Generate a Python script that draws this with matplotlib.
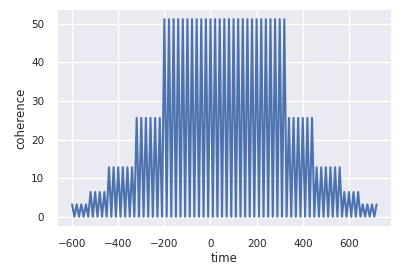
import numpy as np
import matplotlib
matplotlib.use("Agg")
import matplotlib.pyplot as plt
import seaborn as sns

sns.set_theme(style="darkgrid")

# peak level of each tooth, from time -600 to 720 in steps of 20
peak_levels = (
    [3.2] * 4 + [6.4] * 4 + [12.8] * 6 + [25.6] * 6 +
    [51.2] * 27 +
    [25.6] * 6 + [12.8] * 6 + [6.4] * 4 + [3.2] * 4
)
peak_times = list(range(-600, 721, 20))

# zig-zag: peak at each tooth time, zero halfway between teeth
time = []
coherence = []
for t, p in zip(peak_times, peak_levels):
    time.append(t)
    coherence.append(p)
    time.append(t + 10)
    coherence.append(0.0)
time = time[:-1]
coherence = coherence[:-1]

fig = plt.figure(figsize=(4.09, 2.65), dpi=100)
ax = fig.add_axes([0.139, 0.145, 0.819, 0.82])
ax.plot(time, coherence, color="#4C72B0", lw=1.5)
ax.set_xlabel("time", fontsize=8.5, labelpad=2)
ax.set_ylabel("coherence", fontsize=8.5, labelpad=3)
ax.set_xticks([-600, -400, -200, 0, 200, 400, 600])
ax.set_yticks([0, 10, 20, 30, 40, 50])
ax.tick_params(labelsize=7.5, pad=3)
fig.savefig("out.png", dpi=100)
